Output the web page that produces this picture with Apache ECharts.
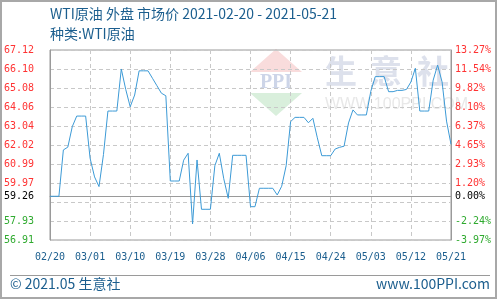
<!DOCTYPE html>
<html>
<head>
<meta charset="utf-8">
<script src="https://cdn.jsdelivr.net/npm/echarts@6/dist/echarts.min.js"></script>
<style>
  html, body { margin: 0; padding: 0; background: #fff; }
  #main { width: 500px; height: 300px; }
</style>
</head>
<body>
<div id="main"></div>
<script>
    // dates 02/20 - 05/21, one point per day
    var dates = [
        '02/20', '02/21', '02/22', '02/23', '02/24', '02/25', '02/26', '02/27', '02/28',
        '03/01', '03/02', '03/03', '03/04', '03/05', '03/06', '03/07', '03/08', '03/09', '03/10',
        '03/11', '03/12', '03/13', '03/14', '03/15', '03/16', '03/17', '03/18', '03/19', '03/20',
        '03/21', '03/22', '03/23', '03/24', '03/25', '03/26', '03/27', '03/28', '03/29', '03/30', '03/31',
        '04/01', '04/02', '04/03', '04/04', '04/05', '04/06', '04/07', '04/08', '04/09', '04/10',
        '04/11', '04/12', '04/13', '04/14', '04/15', '04/16', '04/17', '04/18', '04/19', '04/20',
        '04/21', '04/22', '04/23', '04/24', '04/25', '04/26', '04/27', '04/28', '04/29', '04/30',
        '05/01', '05/02', '05/03', '05/04', '05/05', '05/06', '05/07', '05/08', '05/09', '05/10',
        '05/11', '05/12', '05/13', '05/14', '05/15', '05/16', '05/17', '05/18', '05/19', '05/20', '05/21'
    ];
    var prices = [
        59.26, 59.26, 59.26, 61.75, 61.90, 63.00, 63.57, 63.57, 63.57,
        61.30, 60.30, 59.78, 61.50, 63.84, 63.84, 63.84, 66.10, 65.00, 64.07,
        64.70, 66.00, 66.00, 66.00, 65.60, 65.20, 64.80, 64.66, 60.08, 60.08,
        60.08, 61.20, 61.57, 57.77, 61.21, 58.56, 58.56, 58.56, 60.90, 61.57, 60.20,
        59.15, 61.46, 61.46, 61.46, 61.46, 58.70, 58.70, 59.69, 59.69, 59.69,
        59.69, 59.33, 59.80, 60.90, 63.27, 63.50, 63.50, 63.50, 63.21, 63.45,
        62.40, 61.44, 61.44, 61.44, 61.80, 61.89, 61.95, 63.20, 63.90, 63.63,
        63.63, 63.63, 64.90, 65.69, 65.69, 65.69, 64.88, 64.88, 64.95, 64.95,
        65.00, 65.40, 66.14, 63.84, 63.84, 63.84, 65.50, 66.31, 65.40, 63.30, 62.05
    ];
    var basePrice = 59.26;
    var priceMin = 56.91, priceMax = 67.12, priceStep = 1.021;
    var pctMin = -3.97, pctMax = 13.27, pctStep = 1.724;
    var priceLabels = ['56.91', '57.93', '', '59.97', '60.99', '62.02', '63.04', '64.06', '65.08', '66.10', '67.12'];
    var pctLabels = ['-3.97%', '-2.24%', '', '1.20%', '2.93%', '4.65%', '6.37%', '8.10%', '9.82%', '11.54%', '13.27%'];
    var baseLabels = ['59.26', '0.00%'];

    var blue = '#1b5e8e';
    var mono = 'DejaVu Sans Mono';
    function tickColor(v, i) {
        return i < 2 ? '#2faa2f' : '#ff3333';
    }

    var myChart = echarts.init(document.getElementById('main'));
    var option = {
        animation: false,
        title: [{
            text: 'WTI原油 外盘 市场价 2021-02-20 - 2021-05-21',
            left: 50, top: 7, padding: 0,
            textStyle: {color: blue, fontSize: 14, fontWeight: 'normal', fontFamily: 'Noto Sans CJK SC'}
        }, {
            text: '种类:WTI原油',
            left: 50, top: 27, padding: 0,
            textStyle: {color: blue, fontSize: 14, fontWeight: 'normal', fontFamily: 'Noto Sans CJK SC'}
        }],
        grid: {
            left: 50, right: 49, top: 50, bottom: 60,
            show: true, borderColor: '#9a9a9a', borderWidth: 1
        },
        xAxis: {
            type: 'category',
            data: dates,
            boundaryGap: false,
            axisLine: {lineStyle: {color: '#9a9a9a', width: 1}},
            axisTick: {show: false},
            axisLabel: {interval: 8, margin: 12, color: blue, fontSize: 10, fontFamily: mono},
            splitLine: {show: true, interval: 8, lineStyle: {color: '#c8c8c8', type: [4, 3]}}
        },
        yAxis: [{
            type: 'value',
            min: priceMin, max: priceMax, interval: priceStep,
            axisLine: {show: true, lineStyle: {color: '#9a9a9a'}},
            axisTick: {show: false},
            axisLabel: {
                margin: 16, fontSize: 10, fontFamily: mono, color: tickColor,
                formatter: function (v, i) { return priceLabels[i]; }
            },
            splitLine: {show: true, lineStyle: {color: '#c8c8c8', type: [4, 3]}}
        }, {
            type: 'value',
            min: pctMin, max: pctMax, interval: pctStep,
            axisLine: {show: true, lineStyle: {color: '#9a9a9a'}},
            axisTick: {show: false},
            axisLabel: {
                margin: 4, fontSize: 10, fontFamily: mono, color: tickColor,
                formatter: function (v, i) { return pctLabels[i]; }
            },
            splitLine: {show: false}
        }],
        graphic: [
            {type: 'rect', shape: {x: 1, y: 1, width: 495, height: 297}, style: {fill: null, stroke: '#a8a8a8', lineWidth: 2}},
            {type: 'line', shape: {x1: 10, y1: 275.5, x2: 490, y2: 275.5}, style: {stroke: '#9a9a9a', lineWidth: 1}},
            {type: 'text', left: 10, top: 277, style: {text: '© 2021.05 生意社', fill: blue, font: '14px "Noto Sans CJK SC"'}},
            {type: 'text', right: 10, top: 277, style: {text: 'www.100PPI.com', fill: blue, font: '14px "Noto Sans CJK SC"'}},
            // watermark
            {type: 'polygon', z: -10, shape: {points: [[250, 72], [302, 72], [276, 49]]}, style: {fill: '#f9dcdc'}},
            {type: 'polygon', z: -10, shape: {points: [[250, 93], [302, 93], [276, 116]]}, style: {fill: '#d9efdc'}},
            {type: 'text', z: -10, x: 276, y: 83, style: {text: 'PPI', fill: '#cdd5e8', font: 'bold 20px "Liberation Serif"', align: 'center', verticalAlign: 'middle'}},
            {type: 'text', z: -10, x: 325, y: 55, style: {text: '生', fill: '#dde1ec', font: 'bold 32px "Noto Sans CJK SC"'}},
            {type: 'text', z: -10, x: 370, y: 55, style: {text: '意', fill: '#dde1ec', font: 'bold 32px "Noto Sans CJK SC"'}},
            {type: 'text', z: -10, x: 417, y: 55, style: {text: '社', fill: '#dde1ec', font: 'bold 32px "Noto Sans CJK SC"'}},
            {type: 'text', z: -10, x: 325, y: 97, style: {text: 'WWW.100PPI.COM', fill: '#e8e8e8', font: '16px "Liberation Sans"'}}
        ],
        series: [{
            type: 'line',
            z: 3,
            data: prices,
            showSymbol: false,
            lineStyle: {color: '#3c9ad6', width: 1},
            itemStyle: {color: '#3c9ad6'},
            markLine: {
                silent: true,
                z: 1,
                symbol: 'none',
                lineStyle: {color: '#9a9a9a', type: 'solid', width: 1},
                data: [
                    {yAxis: basePrice, label: {position: 'start', distance: 16, formatter: baseLabels[0], color: '#000', fontSize: 10, fontFamily: mono}},
                    {yAxis: basePrice, label: {position: 'end', distance: 4, formatter: baseLabels[1], color: '#000', fontSize: 10, fontFamily: mono}}
                ]
            }
        }]
    };
    myChart.setOption(option);
</script>
</body>
</html>
